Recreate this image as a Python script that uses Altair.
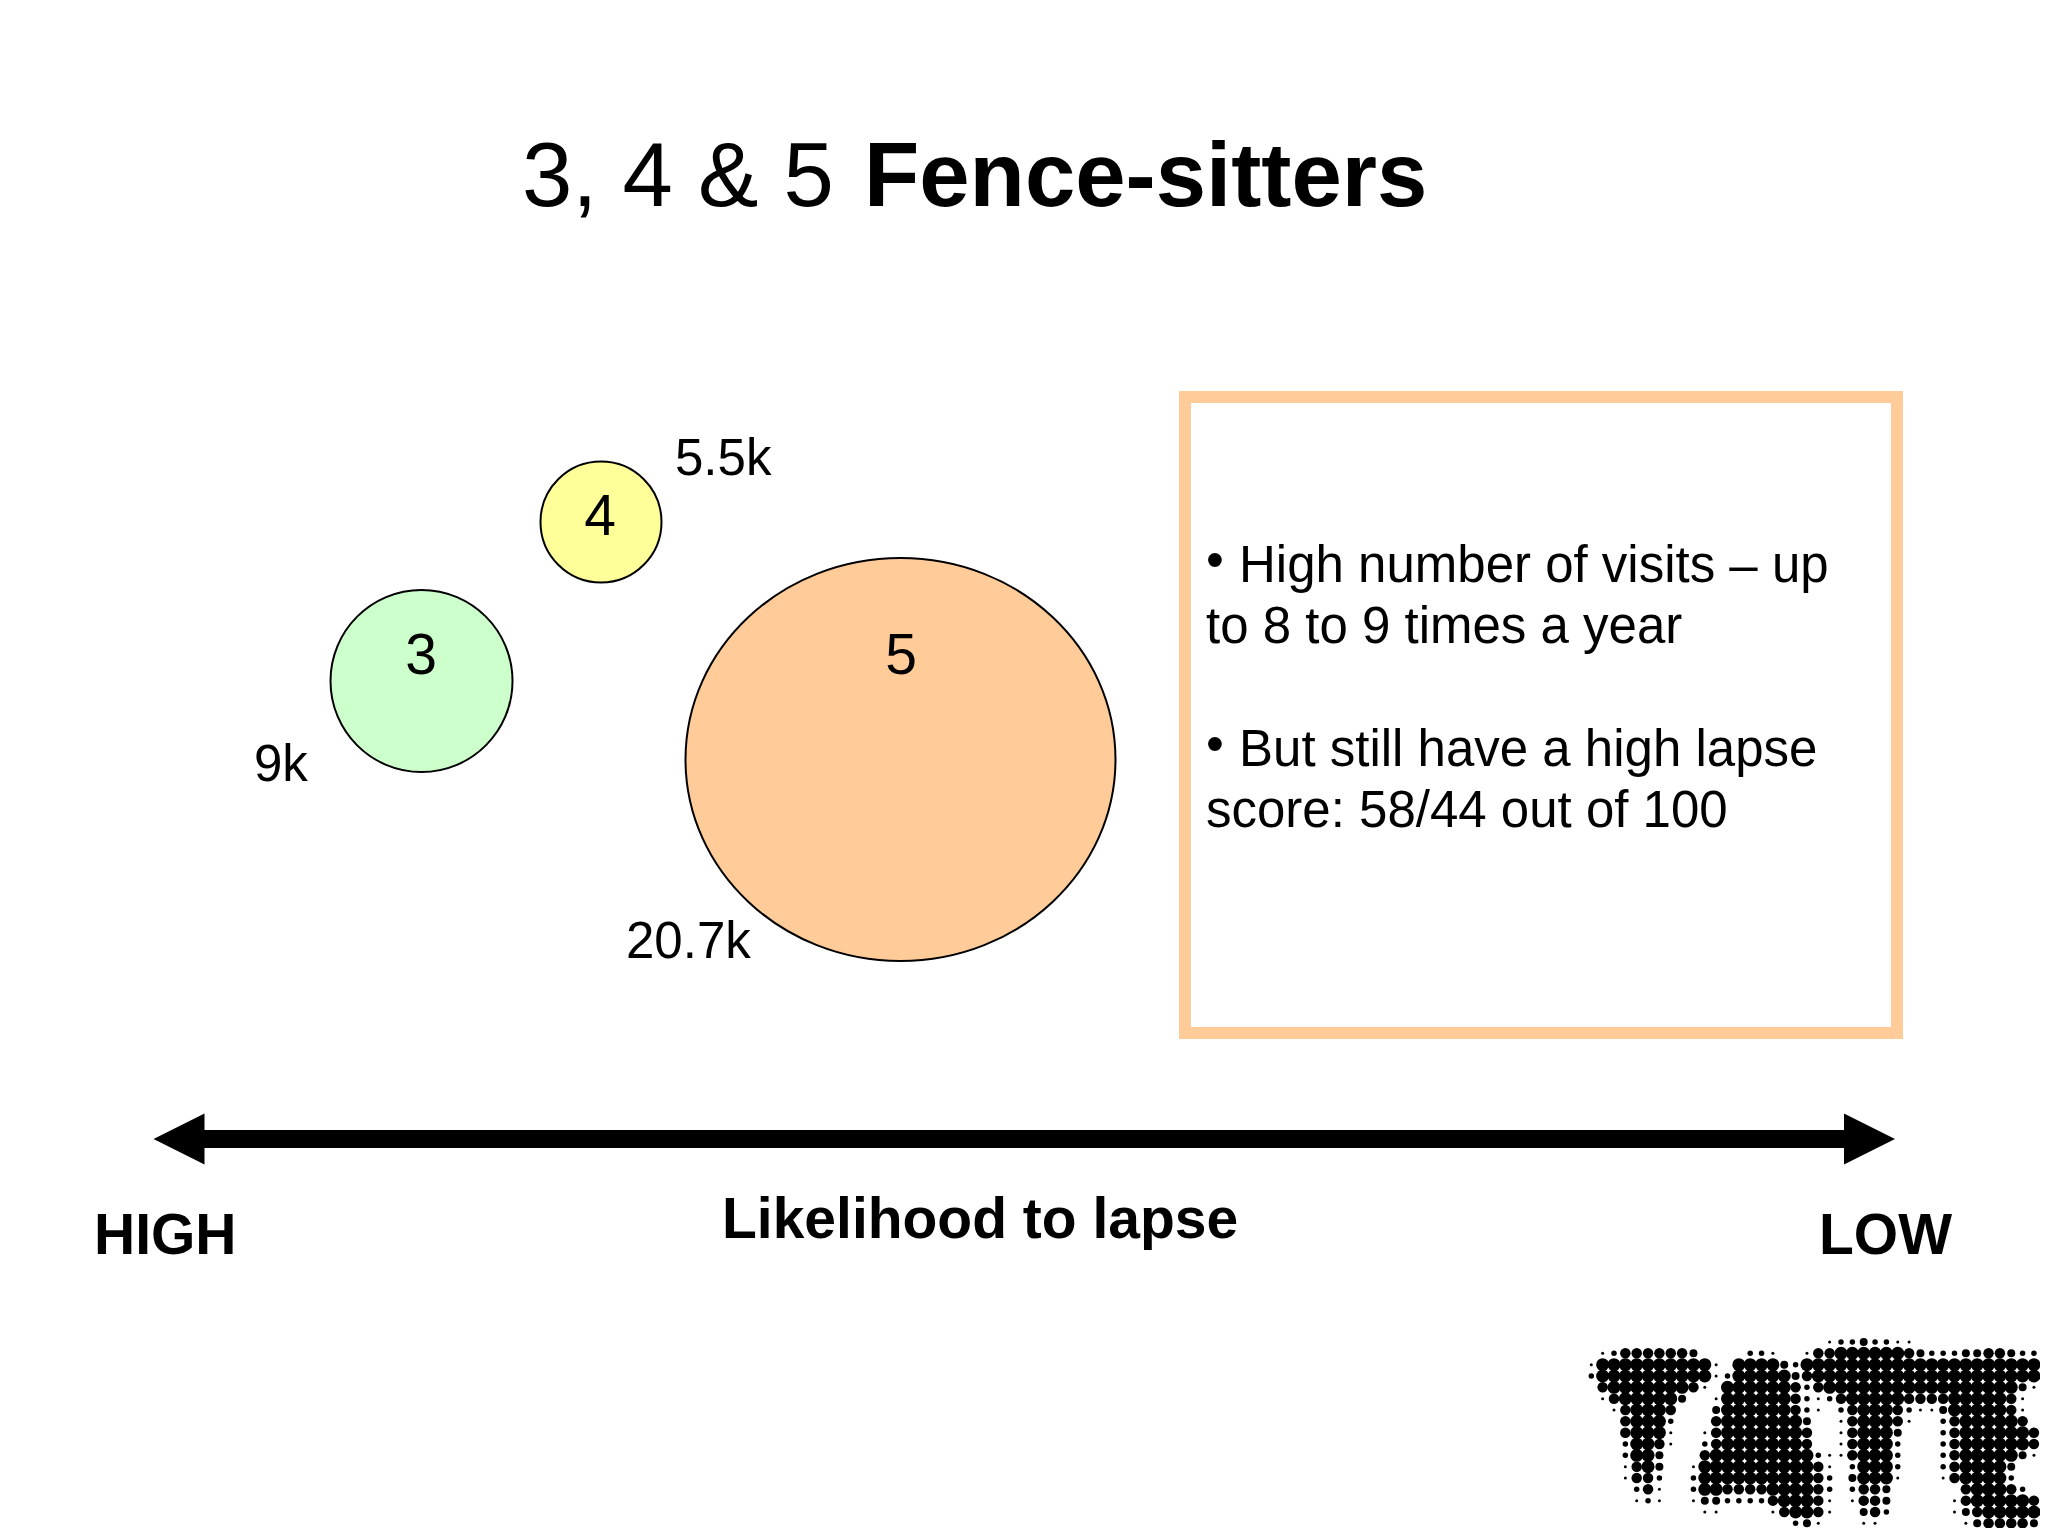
import altair as alt
import pandas as pd

FONT = "Liberation Sans"
W, H = 2032, 1520

# bubbles: centre and radii
bubble_ids = ["3", "4", "5"]
bubble_x = [421.5, 601, 900.5]
bubble_y = [681, 522, 759.5]
bubble_rx = [91, 60.5, 215]
bubble_ry = [91, 60.5, 201.5]
bubble_fill = ["#CCFFCC", "#FFFF99", "#FFCC99"]

id_x = [421, 600, 901]
id_y = [674, 535, 674]

count_labels = ["5.5k", "9k", "20.7k"]
count_x = [675, 254, 626]
count_y = [475, 781, 958]

bullet_lines = ["High number of visits \u2013 up", "to 8 to 9 times a year",
                "But still have a high lapse", "score: 58/44 out of 100"]
bullet_x = [1239, 1206, 1239, 1206]
bullet_y = [582, 643, 766, 827]
bullet_mark_y = [577, 761]

# TATE halftone logo: one string per raster row, one dot level per column
logo_rows = [
    "....................." + "12232211" + "............",
    "." + "124444443" + "...." + "221" + ".." + "144555555432223344322" + ".",
    "1" + "5555555555" + "1" + "." + "5555" + "32" + "555555555555555555555" + "2",
    "2" + "5555555555" + "1" + "2" + "55555" + "3" + "4" + "55555555555555555555" + "2",
    "." + "4" + "5555555" + "4" + "1" + "." + "555555" + "4" + "2" + "4" + "55555555555555555" + "3" + "1" + ".",
    "." + "1" + "4" + "55555" + "3" + ".." + "1" + "555555" + "4" + "2" + "1" + "2" + "4" + "55555" + "4444" + "55555" + "4" + "1" + "..",
    ".." + "1" + "4" + "555" + "4" + "..." + "3" + "555555" + "4" + "2" + "1" + "." + "2" + "4" + "555" + "4" + "2" + "1" + "1" + "3" + "55555" + "4" + "1" + "..",
    "..." + "4" + "555" + "2" + "..." + "4" + "5555555" + "3" + ".." + "1" + "4" + "555" + "4" + "1" + ".." + "2" + "4" + "55555" + "4" + "..",
    "..." + "4" + "555" + "1" + ".." + "1" + "4" + "5555555" + "4" + ".." + "1" + "4" + "555" + "3" + "..." + "2" + "4" + "555555" + "4" + ".",
    "..." + "2" + "55" + "4" + "1" + ".." + "2" + "4" + "5555555" + "4" + ".." + "1" + "4" + "555" + "2" + "..." + "2" + "4" + "555555" + "4" + "1",
    "..." + "2" + "55" + "3" + "..." + "4" + "555555555" + "2" + "1" + "1" + "4" + "555" + "2" + "..." + "2" + "4" + "55555" + "3" + "1" + ".",
    "..." + "1" + "4" + "5" + "3" + ".." + "1" + "5555555555" + "4" + "1" + "." + "2" + "555" + "2" + "..." + "2" + "4" + "5555" + "3" + "...",
    "..." + "1" + "4" + "4" + "2" + ".." + "2" + "5555555555" + "4" + "2" + "." + "3" + "555" + "1" + "..." + "1" + "4" + "5555" + "2" + "...",
    "...." + "2" + "4" + "1" + ".." + "2" + "55" + "4444" + "5555" + "4" + "2" + "." + "2" + "44" + "3" + "......" + "4" + "555" + "4" + "2" + "..",
    "...." + "1" + "2" + "1" + ".." + "1" + "33" + "2222" + "4" + "555" + "4" + "1" + "." + "1" + "44" + "3" + "....." + "1" + "4" + "55555" + "4" + "2",
    ".........." + "11" + "...." + "1" + "4" + "55" + "4" + "1" + ".." + "3" + "4" + "2" + "....." + "1" + "3" + "4" + "55555" + "5",
    ".................." + "231" + "..." + "11" + "......." + "1" + "3" + "4444" + "3" + "1",
    "...................................." + "11" + "...",
]
logo_diam = {"1": 3, "2": 5.5, "3": 8, "4": 10.5, "5": 13}

logo = []
for r, levels in enumerate(logo_rows):
    assert len(levels) == 41, (r, len(levels))
    for k, ch in enumerate(levels):
        if ch != ".":
            logo.append({"x": 1591.3 + 11.35 * k, "y": 1342 + 11.333 * r, "s": logo_diam[ch] ** 2})
logo = pd.DataFrame(logo)

xs = alt.Scale(domain=[8, 8 + W], nice=False, zero=False)
ys = alt.Scale(domain=[8 + H, 8], nice=False, zero=False)
X = alt.X("x:Q", scale=xs, axis=None)
Y = alt.Y("y:Q", scale=ys, axis=None)


def text_layer(texts, x, y, size, bold=False, align="left"):
    df = pd.DataFrame({"t": texts, "x": x, "y": y})
    return alt.Chart(df).mark_text(font=FONT, fontSize=size, align=align, baseline="alphabetic",
                                   fontWeight="bold" if bold else "normal", color="black").encode(
        x=X, y=Y, text="t:N")


layers = []

# bubbles
for i in range(3):
    df = pd.DataFrame({"x": [bubble_x[i]], "y": [bubble_y[i]], "s": [(2 * bubble_rx[i]) ** 2]})
    k = bubble_ry[i] / bubble_rx[i]
    shape = f"M-1,0A1,{k:.4f},0,1,1,1,0A1,{k:.4f},0,1,1,-1,0Z"
    layers.append(alt.Chart(df).mark_point(shape=shape, filled=True, fill=bubble_fill[i], fillOpacity=1,
                                           stroke="black", strokeWidth=2, opacity=1).encode(
        x=X, y=Y, size=alt.Size("s:Q", scale=None, legend=None)))

# call-out box
box = pd.DataFrame({"x": [1185], "x2": [1897], "y": [397], "y2": [1033]})
layers.append(alt.Chart(box).mark_rect(fill="white", stroke="#FFCC99", strokeWidth=12).encode(
    x=X, x2="x2:Q", y=Y, y2="y2:Q"))

# double arrow
shaft = pd.DataFrame({"x": [204], "x2": [1844], "y": [1139]})
layers.append(alt.Chart(shaft).mark_rule(color="black", strokeWidth=18).encode(x=X, x2="x2:Q", y=Y))
for cx, path in [(179, "M-1,0L1,-1L1,1Z"), (1869.5, "M1,0L-1,-1L-1,1Z")]:
    df = pd.DataFrame({"x": [cx], "y": [1139], "s": [2601]})
    layers.append(alt.Chart(df).mark_point(shape=path, filled=True, fill="black", fillOpacity=1,
                                           strokeWidth=0, opacity=1).encode(
        x=X, y=Y, size=alt.Size("s:Q", scale=None, legend=None)))

# logo
layers.append(alt.Chart(logo).mark_point(shape="circle", filled=True, fill="black", fillOpacity=1,
                                         strokeWidth=0, opacity=1).encode(
    x=X, y=Y, size=alt.Size("s:Q", scale=None, legend=None)))

# text
layers.append(text_layer(["3, 4 & 5"], [522], [206], 90.5))
layers.append(text_layer(["Fence-sitters"], [864], [206], 90.5, bold=True))
layers.append(text_layer(bubble_ids, id_x, id_y, 57, align="center"))
layers.append(text_layer(count_labels, count_x, count_y, 51))
layers.append(text_layer(bullet_lines, bullet_x, bullet_y, 51))
layers.append(text_layer(["\u2022", "\u2022"], [1206, 1206], bullet_mark_y, 51))
layers.append(text_layer(["Likelihood to lapse"], [722], [1238], 57, bold=True))
layers.append(text_layer(["HIGH"], [94], [1254], 57, bold=True))
layers.append(text_layer(["LOW"], [1819], [1254], 57, bold=True))

chart = alt.layer(*layers).properties(width=W, height=H, padding=0, background="white",
                                      autosize=alt.AutoSizeParams(type="none")).configure_view(stroke=None)
chart.save("out.html", embed_options={"renderer": "svg", "actions": False})
